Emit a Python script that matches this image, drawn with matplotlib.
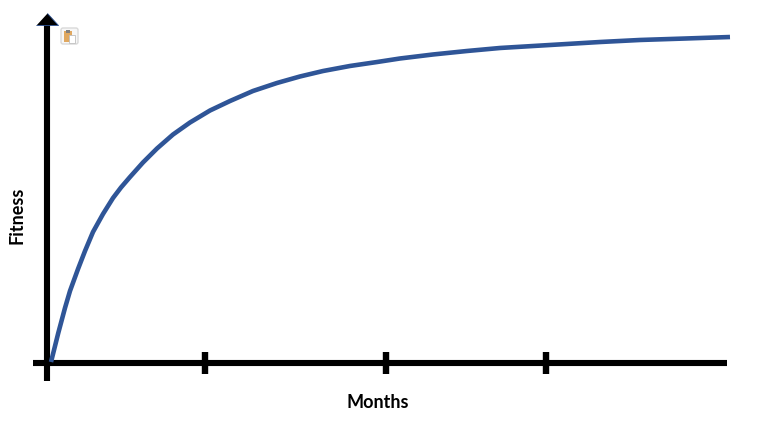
import matplotlib
matplotlib.use("Agg")
import matplotlib.pyplot as plt
from matplotlib.patches import FancyBboxPatch, Rectangle
from matplotlib.transforms import Affine2D
from matplotlib.ticker import NullLocator

W, H = 768, 428
# values (arbitrary units: months, fitness)
months = [0.073, 0.205, 0.327, 0.418, 0.564, 0.691, 0.836, 1.018, 1.2, 1.345, 1.509,
          1.745, 2.0, 2.291, 2.6, 2.964, 3.327, 3.745, 4.182, 4.6, 5.018, 5.509,
          6.0, 6.418, 7.018, 7.636, 8.236, 8.836, 9.455, 10.055, 10.782, 11.6, 12.418]
fitness = [0.019, 0.577, 1.058, 1.385, 1.808, 2.154, 2.519, 2.865, 3.173, 3.375, 3.577,
           3.856, 4.125, 4.394, 4.625, 4.856, 5.038, 5.231, 5.385, 5.51, 5.615, 5.712,
           5.788, 5.856, 5.933, 6.0, 6.058, 6.096, 6.135, 6.173, 6.212, 6.24, 6.269]
tick_months = [2.87, 6.16, 9.07]
x_label = "Months"
y_label = "Fitness"

fig = plt.figure(figsize=(W / 100, H / 100), dpi=100, facecolor="white")
# axes box in pixels: left 33, right 727, top 20, bottom 381
ax = fig.add_axes([33 / W, 1 - 381 / H, (727 - 33) / W, (381 - 20) / H])
ux, uy = 55.0, 52.0  # pixels per unit
ax.set_xlim(-14 / ux, 680 / ux)
ax.set_ylim(-18 / uy, 343 / uy)
ax.patch.set_alpha(0)

for s in ("top", "right"):
    ax.spines[s].set_visible(False)
for s in ("left", "bottom"):
    ax.spines[s].set_position(("data", 0))
    ax.spines[s].set_linewidth(4.4)
    ax.spines[s].set_color("black")
    ax.spines[s].set_capstyle("butt")

ax.set_xticks(tick_months)
ax.set_xticklabels([])
ax.yaxis.set_major_locator(NullLocator())
ax.tick_params(axis="x", direction="inout", length=16.5, width=4.6, color="black")

ax.plot(months, fitness, color="#2F5597", lw=3.3, solid_capstyle="butt",
        solid_joinstyle="round", clip_on=False, zorder=5)
arrow_head = [(-11, 0), (11, 0), (0, 12)]
ax.plot([0], [338 / uy], marker=arrow_head, ms=17.3, mfc="black", mec="#2F5597", mew=0.6,
        clip_on=False, zorder=6)

font = ["Lato", "DejaVu Sans"]
px = Affine2D().scale(1, -1).translate(0, H)  # picture pixels to display
fig.text(378 / W, 1 - 402 / H, x_label, ha="center", va="center",
         fontsize=13, fontweight="bold", family=font, color="black")
fig.text(16.5 / W, 1 - 215 / H, y_label, ha="center", va="center", rotation=90,
         fontsize=13, fontweight="bold", family=font, color="black")

# small clipboard icon beside the arrow
icon = [
    FancyBboxPatch((61, 28), 17, 16, boxstyle="round,pad=0,rounding_size=2",
                   fc="#F7F7F7", ec="#D9D9D9", lw=1),
    Rectangle((64, 31), 8, 11, fc="#E0A860", ec="none"),
    Rectangle((66, 29.5), 4, 3, fc="#7F7F7F", ec="none"),
    Rectangle((69, 35), 6, 8, fc="#FFFFFF", ec="#BFBFBF", lw=0.6),
]
for p in icon:
    p.set_transform(px)
    fig.add_artist(p)

fig.savefig("out.png", dpi=100, facecolor="white")
